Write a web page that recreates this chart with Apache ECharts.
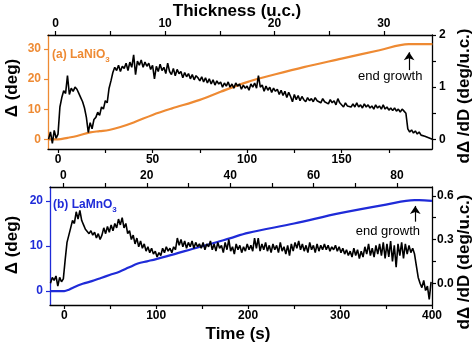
<!DOCTYPE html>
<html>
<head>
<meta charset="utf-8">
<script src="https://cdn.jsdelivr.net/npm/echarts@6/dist/echarts.min.js"></script>
<style>
  html, body { margin: 0; padding: 0; background: #fff; }
  #chart { width: 474px; height: 345px; }
</style>
</head>
<body>
<div id="chart"></div>
<script>
// ---------- (a) LaNiO3 ----------
// Ellipsometric phase Δ (deg) versus time (s)
const deltaA_t = [-5, 0, 5, 10, 17, 22, 27, 33, 40, 50, 60, 75, 86, 100, 115, 130, 150, 170, 185.5, 198];
const deltaA   = [0, 0, 0.5, 1.1, 2.3, 2.7, 3.1, 4.1, 5.6, 8.1, 10.2, 13.1, 15.8, 19.0, 21.6, 24.0, 26.8, 29.6, 31.6, 31.6];

// dΔ/dD (deg/u.c.) sampled every second, starting at t = -5 s
const rateA_t0 = -5, rateA_dt = 1;
const rateA = [
  0.00, 0.14, -0.08, 0.17, 0.02, 0.10, 0.62, 0.80, 0.93, 0.88,
  1.22, 0.86, 0.98, 0.92, 1.00, 0.96, 0.88, 0.80, 0.72, 0.60,
  0.42, 0.13, 0.32, 0.20, 0.38, 0.42, 0.52, 0.46, 0.62, 0.58,
  0.74, 0.70, 0.98, 1.12, 1.28, 1.38, 1.32, 1.42, 1.30, 1.40,
  1.36, 1.46, 1.32, 1.48, 1.38, 1.62, 1.24, 1.50, 1.42, 1.52,
  1.38, 1.48, 1.40, 1.46, 1.34, 1.42, 1.16, 1.40, 1.30, 1.44,
  1.32, 1.38, 1.26, 1.46, 1.30, 1.24, 1.36, 1.22, 1.34, 1.26,
  1.30, 1.18, 1.28, 1.20, 1.26, 1.16, 1.24, 1.14, 1.22, 1.18,
  1.12, 1.20, 1.10, 1.18, 1.08, 1.16, 1.06, 1.14, 1.04, 1.12,
  1.06, 1.10, 1.00, 1.08, 1.02, 1.10, 1.00, 1.06, 0.98, 1.08,
  1.02, 1.06, 0.96, 1.04, 0.98, 1.02, 0.94, 1.06, 1.00, 1.08,
  0.98, 1.22, 1.00, 1.04, 0.92, 1.02, 0.94, 1.00, 0.90, 0.98,
  0.92, 0.96, 0.86, 0.94, 0.84, 0.92, 0.80, 0.90, 0.82, 0.72,
  0.86, 0.76, 0.84, 0.74, 0.82, 0.76, 0.72, 0.80, 0.74, 0.78,
  0.72, 0.80, 0.74, 0.76, 0.70, 0.78, 0.72, 0.74, 0.68, 0.76,
  0.70, 0.74, 0.66, 0.78, 0.70, 0.68, 0.62, 0.70, 0.64, 0.66,
  0.62, 0.68, 0.62, 0.70, 0.62, 0.66, 0.60, 0.68, 0.62, 0.66,
  0.60, 0.64, 0.58, 0.66, 0.60, 0.64, 0.58, 0.66, 0.58, 0.62,
  0.56, 0.60, 0.55, 0.60, 0.54, 0.58, 0.52, 0.58, 0.54, 0.50,
  0.20, 0.14, 0.18, 0.12, 0.16, 0.10, 0.14, 0.08, 0.10, 0.06,
  0.08, 0.03, 0.04, 0.00
];

// ---------- (b) LaMnO3 ----------
const deltaB_t = [-15, 0, 5, 10, 20, 30, 40, 50, 60, 70, 80, 90, 100, 120, 140, 160, 180, 200, 250, 300, 350, 381, 386, 400];
const deltaB   = [0, 0, 0.3, 0.8, 1.6, 2.2, 2.9, 3.6, 4.3, 5.2, 6.1, 6.6, 7.1, 8.2, 9.4, 10.5, 11.7, 12.9, 15.0, 17.3, 19.2, 20.2, 20.2, 20.0];

// dΔ/dD (deg/u.c.) sampled every 2 s, starting at t = -15 s
const rateB_t0 = -15, rateB_dt = 2;
const rateB = [
  0.00, 0.04, 0.02, 0.05, -0.02, 0.04, 0.01, 0.03, 0.16, 0.28,
  0.33, 0.38, 0.43, 0.41, 0.49, 0.44, 0.50, 0.43, 0.40, 0.37,
  0.38, 0.34, 0.36, 0.33, 0.35, 0.31, 0.34, 0.30, 0.33, 0.38,
  0.34, 0.39, 0.35, 0.40, 0.36, 0.41, 0.38, 0.44, 0.40, 0.45,
  0.38, 0.41, 0.34, 0.36, 0.30, 0.33, 0.27, 0.31, 0.25, 0.29,
  0.24, 0.27, 0.22, 0.25, 0.21, 0.24, 0.20, 0.22, 0.18, 0.21,
  0.19, 0.24, 0.21, 0.25, 0.22, 0.24, 0.21, 0.25, 0.23, 0.31,
  0.26, 0.30, 0.25, 0.29, 0.24, 0.28, 0.25, 0.29, 0.24, 0.28,
  0.25, 0.27, 0.24, 0.28, 0.23, 0.27, 0.25, 0.29, 0.23, 0.27,
  0.22, 0.28, 0.24, 0.26, 0.21, 0.28, 0.23, 0.30, 0.22, 0.25,
  0.20, 0.27, 0.23, 0.26, 0.21, 0.25, 0.22, 0.27, 0.23, 0.26,
  0.22, 0.31, 0.24, 0.31, 0.22, 0.27, 0.23, 0.28, 0.22, 0.26,
  0.21, 0.27, 0.23, 0.26, 0.21, 0.28, 0.22, 0.25, 0.20, 0.26,
  0.19, 0.27, 0.22, 0.28, 0.24, 0.29, 0.23, 0.27, 0.22, 0.26,
  0.21, 0.28, 0.23, 0.26, 0.21, 0.27, 0.22, 0.26, 0.23, 0.27,
  0.23, 0.26, 0.22, 0.25, 0.23, 0.26, 0.22, 0.25, 0.21, 0.24,
  0.20, 0.23, 0.19, 0.22, 0.18, 0.24, 0.19, 0.23, 0.17, 0.22,
  0.18, 0.25, 0.20, 0.27, 0.19, 0.24, 0.18, 0.26, 0.20, 0.27,
  0.19, 0.28, 0.17, 0.27, 0.18, 0.29, 0.15, 0.26, 0.11, 0.27,
  0.19, 0.28, 0.17, 0.27, 0.20, 0.26, 0.21, 0.24, 0.20, 0.12,
  0.04, 0.00, -0.03, 0.02, -0.05, -0.02, -0.11, 0.01
];

// ---------- tick positions ----------
const timeLabelsA = [0, 50, 100, 150],      timeTicksA = [0, 25, 50, 75, 100, 125, 150, 175];
const thickLabelsA = [0, 10, 20, 30],       thickTicksA = [0, 5, 10, 15, 20, 25, 30];
const deltaLabelsA = [0, 10, 20, 30];
const rateLabelsA = [0, 1, 2],              rateTicksA = [0, 0.5, 1, 1.5, 2];
const timeLabelsB = [0, 100, 200, 300, 400], timeTicksB = [0, 50, 100, 150, 200, 250, 300, 350, 400];
const thickLabelsB = [0, 20, 40, 60, 80],   thickTicksB = [0, 10, 20, 30, 40, 50, 60, 70, 80];
const deltaLabelsB = [0, 10, 20];
const rateLabelsB = [0, 0.3, 0.6],          rateTicksB = [0, 0.15, 0.3, 0.45, 0.6];

const FONT = '"Liberation Sans", Arial, sans-serif';
const ORANGE = '#ee8a33';
const BLUE = '#1f2bd8';
const BLACK = '#000';

const zip = (xs, ys) => xs.map((x, i) => [x, ys[i]]);
const sampled = (t0, dt, ys) => ys.map((y, i) => [t0 + i * dt, y]);

function axis(opts) {
  const color = opts.color || BLACK;
  return {
    type: 'value',
    gridIndex: opts.grid,
    position: opts.position,
    min: opts.min,
    max: opts.max,
    axisLine: { show: true, onZero: false, lineStyle: { color: opts.lineColor || color, width: 1.3 } },
    axisTick: { show: true, inside: false, length: 4, customValues: opts.ticks, lineStyle: { color: opts.lineColor || color, width: 1.2 } },
    axisLabel: {
      customValues: opts.labels, margin: opts.margin, hideOverlap: false,
      color: color, fontFamily: FONT, fontWeight: 'bold', fontSize: 12,
      formatter: opts.fmt || (v => String(v))
    },
    splitLine: { show: false },
    minorTick: { show: false }
  };
}

// Upward arrow pointing at the end of growth, plus its caption
function endGrowth(arrowX, y0, y1, textX, textY) {
  return {
    markLine: {
      silent: true, symbol: ['none', 'arrow'], symbolSize: 8, symbolOffset: 0,
      label: { show: false }, lineStyle: { color: BLACK, width: 1.2, type: 'solid' },
      emphasis: { disabled: true },
      data: [[{ coord: [arrowX, y0] }, { coord: [arrowX, y1], symbol: 'arrow', symbolSize: 8 }]]
    },
    markPoint: {
      silent: true, symbol: 'circle', symbolSize: 0,
      label: { show: true, position: 'inside', formatter: 'end growth', color: BLACK, fontFamily: FONT, fontSize: 13 },
      data: [{ coord: [textX, textY] }]
    }
  };
}

const titleStyle = { fontFamily: FONT, fontWeight: 'bold', fontSize: 17, fill: BLACK, align: 'center', verticalAlign: 'middle' };

const chart = echarts.init(document.getElementById('chart'), null, { renderer: 'canvas' });

chart.setOption({
  animation: false,
  backgroundColor: '#fff',
  grid: [
    { left: 48, right: 42, top: 35, height: 114 },
    { left: 50, right: 42, top: 187, height: 118 }
  ],
  xAxis: [
    axis({ grid: 0, position: 'bottom', min: -5.3, max: 197.8, ticks: timeTicksA, labels: timeLabelsA, margin: 5 }),
    axis({ grid: 0, position: 'top', min: -0.7, max: 34.4, ticks: thickTicksA, labels: thickLabelsA, margin: 5 }),
    axis({ grid: 1, position: 'bottom', min: -15.5, max: 400, ticks: timeTicksB, labels: timeLabelsB, margin: 5 }),
    axis({ grid: 1, position: 'top', min: -3.2, max: 88.4, ticks: thickTicksB, labels: thickLabelsB, margin: 5 })
  ],
  yAxis: [
    axis({ grid: 0, position: 'left', min: -3.22, max: 34.65, ticks: deltaLabelsA, labels: deltaLabelsA, margin: 7, color: ORANGE }),
    axis({ grid: 0, position: 'right', min: -0.186, max: 2.0, ticks: rateTicksA, labels: rateLabelsA, margin: 7 }),
    axis({ grid: 1, position: 'left', min: -3.1, max: 23.1, ticks: deltaLabelsB, labels: deltaLabelsB, margin: 7, color: BLUE }),
    axis({ grid: 1, position: 'right', min: -0.149, max: 0.66, ticks: rateTicksB, labels: rateLabelsB, margin: 5, fmt: v => v.toFixed(1) })
  ],
  series: [
    Object.assign({
      name: 'Δ LaNiO3', type: 'line', xAxisIndex: 0, yAxisIndex: 0,
      data: zip(deltaA_t, deltaA), smooth: 0.35, showSymbol: false,
      lineStyle: { color: ORANGE, width: 2.2 }, z: 2
    }, endGrowth(185.7, 23.0, 28.9, 175.7, 20.8)),
    {
      name: 'dΔ/dD LaNiO3', type: 'line', xAxisIndex: 0, yAxisIndex: 1,
      data: sampled(rateA_t0, rateA_dt, rateA), showSymbol: false,
      lineStyle: { color: BLACK, width: 1.6 }, z: 3
    },
    Object.assign({
      name: 'Δ LaMnO3', type: 'line', xAxisIndex: 2, yAxisIndex: 2,
      data: zip(deltaB_t, deltaB), smooth: 0.35, showSymbol: false,
      lineStyle: { color: BLUE, width: 2.2 }, z: 2
    }, endGrowth(381.8, 15.4, 18.9, 352, 13.2)),
    {
      name: 'dΔ/dD LaMnO3', type: 'line', xAxisIndex: 2, yAxisIndex: 3,
      data: sampled(rateB_t0, rateB_dt, rateB), showSymbol: false,
      lineStyle: { color: BLACK, width: 1.6 }, z: 3
    }
  ],
  graphic: [
    { type: 'text', x: 237, y: 11, style: Object.assign({ text: 'Thickness (u.c.)' }, titleStyle) },
    { type: 'text', x: 238, y: 334, style: Object.assign({ text: 'Time (s)' }, titleStyle) },
    { type: 'text', x: 12, y: 88, rotation: Math.PI / 2, style: Object.assign({ text: 'Δ (deg)' }, titleStyle) },
    { type: 'text', x: 12, y: 245, rotation: Math.PI / 2, style: Object.assign({ text: 'Δ (deg)' }, titleStyle) },
    { type: 'text', x: 464, y: 96, rotation: Math.PI / 2, style: Object.assign({ text: 'dΔ /dD (deg/u.c.)' }, titleStyle) },
    { type: 'text', x: 464, y: 262, rotation: Math.PI / 2, style: Object.assign({ text: 'dΔ /dD (deg/u.c.)' }, titleStyle) },
    {
      type: 'text', x: 52, y: 53,
      style: {
        text: '{m|(a) LaNiO}{s|3}', verticalAlign: 'middle',
        rich: {
          m: { fontFamily: FONT, fontWeight: 'bold', fontSize: 12, fill: ORANGE, lineHeight: 16, verticalAlign: 'bottom' },
          s: { fontFamily: FONT, fontWeight: 'bold', fontSize: 8, fill: ORANGE, lineHeight: 16, verticalAlign: 'bottom', padding: [0, 0, -3, 0] }
        }
      }
    },
    {
      type: 'text', x: 53, y: 203,
      style: {
        text: '{m|(b) LaMnO}{s|3}', verticalAlign: 'middle',
        rich: {
          m: { fontFamily: FONT, fontWeight: 'bold', fontSize: 12, fill: BLUE, lineHeight: 16, verticalAlign: 'bottom' },
          s: { fontFamily: FONT, fontWeight: 'bold', fontSize: 8, fill: BLUE, lineHeight: 16, verticalAlign: 'bottom', padding: [0, 0, -3, 0] }
        }
      }
    }
  ]
});
</script>
</body>
</html>
